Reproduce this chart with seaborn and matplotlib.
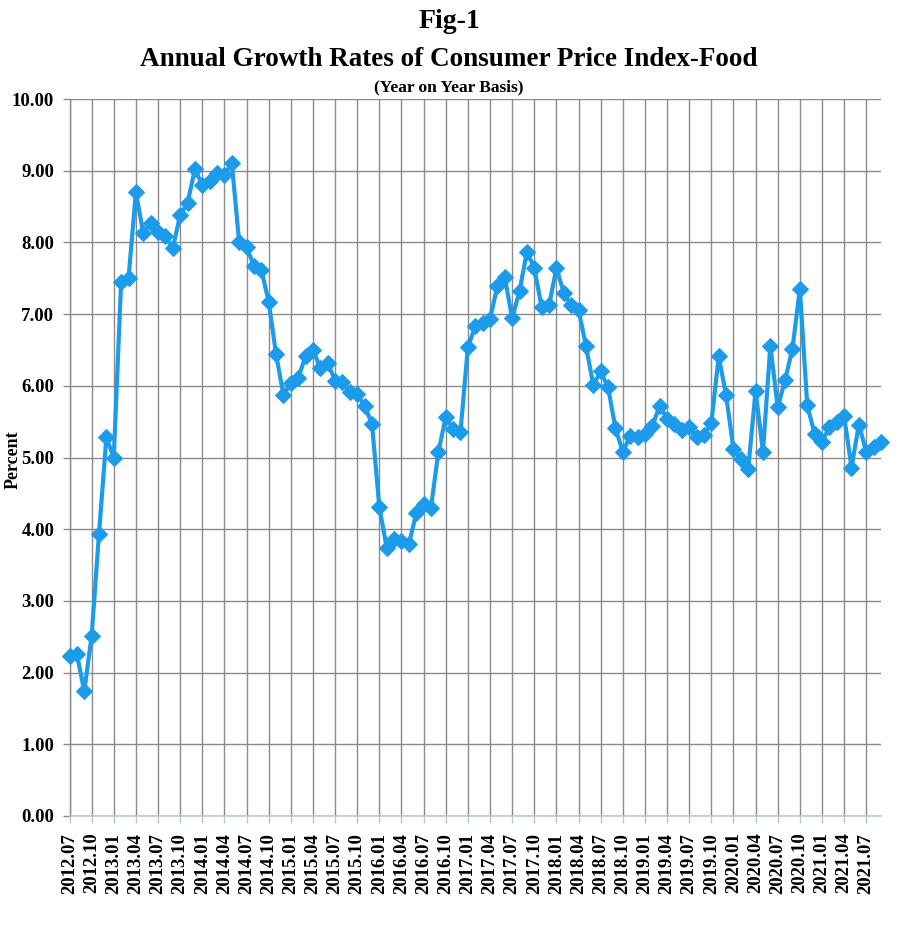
import matplotlib
matplotlib.use("Agg")
import matplotlib.pyplot as plt
import seaborn as sns
import pandas as pd

tick_labels = ["2012.07", "2012.10", "2013.01", "2013.04", "2013.07", "2013.10",
               "2014.01", "2014.04", "2014.07", "2014.10", "2015.01", "2015.04",
               "2015.07", "2015.10", "2016.01", "2016.04", "2016.07", "2016.10",
               "2017.01", "2017.04", "2017.07", "2017.10", "2018.01", "2018.04",
               "2018.07", "2018.10", "2019.01", "2019.04", "2019.07", "2019.10",
               "2020.01", "2020.04", "2020.07", "2020.10", "2021.01", "2021.04",
               "2021.07"]

growth = [2.23, 2.26, 1.74, 2.51, 3.94, 5.28, 5.00, 7.45, 7.50, 8.70,
          8.13, 8.27, 8.15, 8.09, 7.92, 8.38, 8.55, 9.02, 8.80, 8.85,
          8.97, 8.94, 9.11, 8.00, 7.94, 7.67, 7.62, 7.17, 6.44, 5.87,
          6.04, 6.11, 6.41, 6.50, 6.25, 6.32, 6.07, 6.05, 5.91, 5.88,
          5.72, 5.47, 4.31, 3.74, 3.87, 3.84, 3.79, 4.22, 4.35, 4.30,
          5.08, 5.56, 5.40, 5.36, 6.54, 6.83, 6.88, 6.93, 7.39, 7.52,
          6.94, 7.32, 7.87, 7.64, 7.10, 7.12, 7.64, 7.30, 7.12, 7.06,
          6.56, 6.01, 6.20, 5.98, 5.41, 5.08, 5.30, 5.29, 5.33, 5.44,
          5.72, 5.54, 5.47, 5.38, 5.43, 5.29, 5.31, 5.48, 6.41, 5.87,
          5.12, 4.98, 4.84, 5.93, 5.08, 6.56, 5.70, 6.08, 6.52, 7.35,
          5.73, 5.33, 5.22, 5.42, 5.50, 5.58, 4.86, 5.46, 5.08, 5.15, 5.22]

y_ticks = [0, 1, 2, 3, 4, 5, 6, 7, 8, 9, 10]

df = pd.DataFrame({"month": list(range(len(growth))), "growth": growth})

sns.set_theme(style="white")
plt.rcParams["font.family"] = ["Liberation Serif", "DejaVu Serif"]
plt.rcParams["font.weight"] = "bold"
plt.rcParams["text.color"] = "black"
plt.rcParams["xtick.color"] = "black"
plt.rcParams["ytick.color"] = "black"

fig = plt.figure(figsize=(9, 9.33), dpi=100)
ax = fig.add_axes([69.5 / 900, 1 - 816 / 933, (881 - 69.5) / 900, (816 - 99) / 933])

grid_c = "#8a8a8a"
line_c = "#1C9BEA"

sns.lineplot(data=df, x="month", y="growth", ax=ax, color=line_c, linewidth=3.0,
             marker="D", markersize=8, markeredgecolor=line_c, zorder=5, clip_on=False)

ax.set_xlim(0, 110)
ax.set_ylim(0, 10)
ax.set_xticks(list(range(0, 3 * len(tick_labels), 3)))
ax.set_xticklabels(tick_labels, rotation=90, fontsize=13.5, fontweight="bold", color="black")
ax.set_yticks(y_ticks)
ax.set_yticklabels([f"{v:.2f}" for v in y_ticks], fontsize=13.5, fontweight="bold", color="black")

ax.grid(True, axis="both", color=grid_c, linewidth=1.0)
ax.set_axisbelow(True)

ax.tick_params(axis="y", which="major", length=5, width=1.0, color=grid_c, pad=6, left=True,
               labelcolor="black")
ax.tick_params(axis="x", which="major", length=5, width=1.0, color="#b8c8d4", pad=7, bottom=True,
               labelcolor="black")

for s in ["top", "right"]:
    ax.spines[s].set_visible(False)
ax.spines["left"].set_color(grid_c)
ax.spines["left"].set_linewidth(1.0)
ax.spines["bottom"].set_color("#b8c8d4")
ax.spines["bottom"].set_linewidth(1.2)

ax.set_xlabel("")
ax.set_ylabel("")
fig.text(13 / 900, 1 - 460 / 933, "Percent", rotation=90, ha="center", va="center",
         fontsize=13, fontweight="bold", color="black")

fig.text(449 / 900, 1 - 22 / 933, "Fig-1", ha="center", va="center",
         fontsize=20, fontweight="bold", color="black")
fig.text(449 / 900, 1 - 60 / 933, "Annual Growth Rates of Consumer Price Index-Food",
         ha="center", va="center", fontsize=19.5, fontweight="bold", color="black")
fig.text(449 / 900, 1 - 87 / 933, "(Year on Year Basis)", ha="center", va="center",
         fontsize=12.5, fontweight="bold", color="black")

fig.savefig("out.png", dpi=100, facecolor="white")
